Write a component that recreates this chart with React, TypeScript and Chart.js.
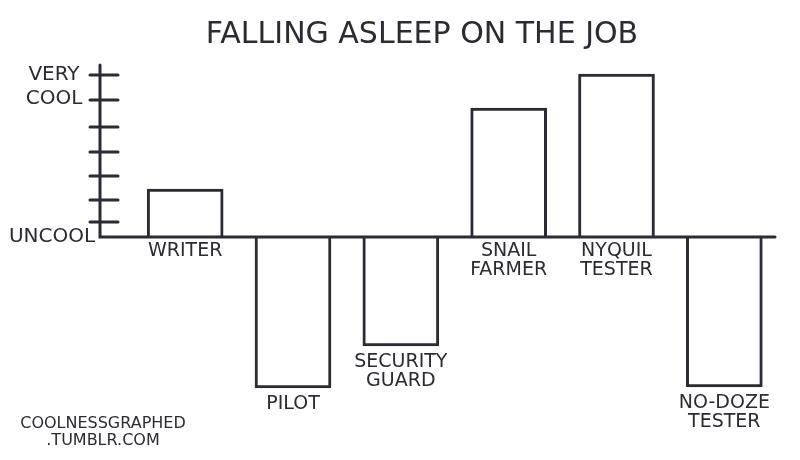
import { useEffect, useRef } from 'react';
import { Chart, registerables } from 'chart.js';

Chart.register(...registerables);

const chartTitle = 'FALLING ASLEEP ON THE JOB';
const jobs = ['WRITER', 'PILOT', 'SECURITY GUARD', 'SNAIL FARMER', 'NYQUIL TESTER', 'NO-DOZE TESTER'];
const coolness = [48, -151, -109, 129, 163, -150];
const coolTicks = [15, 37, 61, 85, 110, 137, 162];
const topAxisLabel = ['VERY', 'COOL'];
const zeroAxisLabel = 'UNCOOL';
const credit = ['COOLNESSGRAPHED', '.TUMBLR.COM'];

const INK = '#2b2b33';
const FONT = '"DejaVu Sans", sans-serif';

// axes, labels and title drawn by hand on top of the bars
const sketchPlugin = {
  id: 'sketch',
  afterDatasetsDraw(chart: Chart) {
    const { ctx, chartArea, scales } = chart;
    const y = scales.y;
    const zero = y.getPixelForValue(0);
    const left = chartArea.left;

    ctx.save();
    ctx.strokeStyle = INK;
    ctx.fillStyle = INK;
    ctx.lineWidth = 3;
    ctx.lineCap = 'round';

    // y axis (positive side only) and x axis
    ctx.beginPath();
    ctx.moveTo(left, chartArea.top);
    ctx.lineTo(left, zero);
    ctx.lineTo(chartArea.right, zero);
    ctx.stroke();

    // ticks crossing the axis
    coolTicks.forEach((t) => {
      const py = y.getPixelForValue(t);
      ctx.beginPath();
      ctx.moveTo(left - 10, py);
      ctx.lineTo(left + 18, py);
      ctx.stroke();
    });

    ctx.textAlign = 'center';
    ctx.textBaseline = 'middle';

    // axis labels
    ctx.font = `20px ${FONT}`;
    const topTick = y.getPixelForValue(coolTicks[coolTicks.length - 1]);
    topAxisLabel.forEach((line, i) => {
      ctx.fillText(line, left - 46, topTick + i * 24);
    });
    ctx.fillText(zeroAxisLabel, left - 48, zero);

    // bar labels: under the axis for positive bars, under the bar for negative ones
    ctx.font = `19px ${FONT}`;
    const meta = chart.getDatasetMeta(0);
    meta.data.forEach((bar: any, i: number) => {
      const { x, y: barY } = bar.getProps(['x', 'y'], true);
      const startY = coolness[i] >= 0 ? zero + 14 : barY + 16;
      jobs[i].split(' ').forEach((line, j) => {
        ctx.fillText(line, x, startY + j * 19);
      });
    });

    // title
    ctx.font = `30px ${FONT}`;
    ctx.fillText(chartTitle, 422, 35);

    // credit
    ctx.font = `16px ${FONT}`;
    credit.forEach((line, i) => {
      ctx.fillText(line, 103, 424 + i * 17);
    });

    ctx.restore();
  },
};

export default function App() {
  const chartRef = useRef<HTMLCanvasElement>(null);
  const chartInstance = useRef<Chart | null>(null);

  useEffect(() => {
    if (!chartRef.current) return;
    if (chartInstance.current) {
      chartInstance.current.destroy();
    }
    const ctx = chartRef.current.getContext('2d');
    if (!ctx) return;

    chartInstance.current = new Chart(ctx, {
      type: 'bar',
      data: {
        datasets: [
          {
            label: 'Coolness',
            data: coolness.map((v, i) => ({ x: i, y: v })),
            backgroundColor: '#ffffff',
            borderColor: INK,
            borderWidth: 3,
            barThickness: 76,
          },
        ],
      },
      options: {
        responsive: false,
        animation: false,
        layout: {
          padding: { left: 100, right: 25, top: 65, bottom: 23 },
        },
        plugins: {
          legend: { display: false },
          tooltip: { enabled: false },
          title: { display: false },
        },
        scales: {
          x: { type: 'linear', min: -0.79, max: 5.47, offset: false, display: false },
          y: { min: -200, max: 172, display: false },
        },
      },
      plugins: [sketchPlugin],
    });

    return () => {
      if (chartInstance.current) {
        chartInstance.current.destroy();
        chartInstance.current = null;
      }
    };
  }, []);

  return (
    <div style={{ position: 'fixed', left: 0, top: 0, width: 800, height: 460, background: '#ffffff' }}>
      <canvas ref={chartRef} width={800} height={460} style={{ display: 'block' }} />
    </div>
  );
}
